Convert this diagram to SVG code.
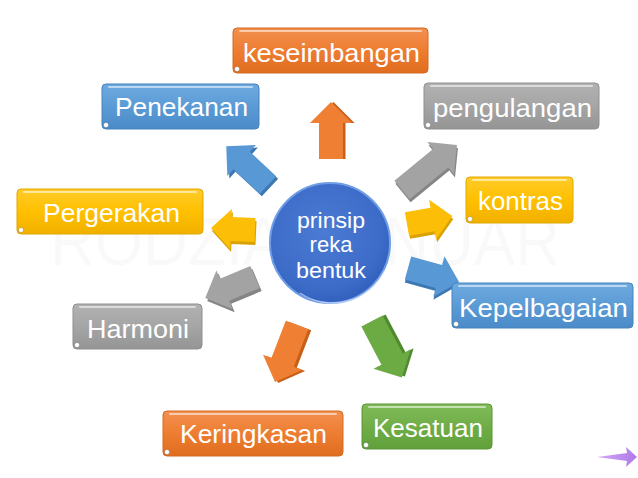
<svg xmlns="http://www.w3.org/2000/svg" width="638" height="478" viewBox="0 0 638 478">
  <defs>
    <linearGradient id="gOrange" x1="0" y1="0" x2="0" y2="1">
      <stop offset="0" stop-color="#f39050"/><stop offset="0.5" stop-color="#ed7d31"/><stop offset="1" stop-color="#e06d20"/>
    </linearGradient>
    <linearGradient id="gBlue" x1="0" y1="0" x2="0" y2="1">
      <stop offset="0" stop-color="#6eaae0"/><stop offset="0.5" stop-color="#5b9bd5"/><stop offset="1" stop-color="#4a8ac8"/>
    </linearGradient>
    <linearGradient id="gGray" x1="0" y1="0" x2="0" y2="1">
      <stop offset="0" stop-color="#b2b2b2"/><stop offset="0.5" stop-color="#a5a5a5"/><stop offset="1" stop-color="#959595"/>
    </linearGradient>
    <linearGradient id="gYellow" x1="0" y1="0" x2="0" y2="1">
      <stop offset="0" stop-color="#ffcb2a"/><stop offset="0.5" stop-color="#ffc000"/><stop offset="1" stop-color="#f0b000"/>
    </linearGradient>
    <linearGradient id="gGreen" x1="0" y1="0" x2="0" y2="1">
      <stop offset="0" stop-color="#80bb58"/><stop offset="0.5" stop-color="#70ad47"/><stop offset="1" stop-color="#60a03a"/>
    </linearGradient>
    <radialGradient id="gCircle" cx="0.45" cy="0.4" r="0.6">
      <stop offset="0" stop-color="#4b7bd4"/><stop offset="0.8" stop-color="#3d6bc8"/><stop offset="1" stop-color="#3260be"/>
    </radialGradient>
    <linearGradient id="gPurple" x1="0" y1="0" x2="1" y2="0">
      <stop offset="0" stop-color="#d2a8f6"/><stop offset="1" stop-color="#b07ae8"/>
    </linearGradient>
  </defs>
  <style>
    .lbl { font-family: "Liberation Sans", Arial, sans-serif; font-size: 26px; fill: #ffffff; text-anchor: middle; }
    .ctr { font-family: "Liberation Sans", Arial, sans-serif; font-size: 22px; fill: #ffffff; text-anchor: middle; }
    .hl { stroke: #ffffff; stroke-opacity: 0.55; stroke-width: 2; stroke-linecap: round; fill: none; }
    .dot { fill: #ffffff; stroke: #000; stroke-opacity: 0.25; stroke-width: 0.8; }
    .orange { fill: url(#gOrange); stroke: #d46a22; stroke-width: 1; }
    .blue { fill: url(#gBlue); stroke: #4683bd; stroke-width: 1; }
    .gray { fill: url(#gGray); stroke: #8f8f8f; stroke-width: 1; }
    .yellow { fill: url(#gYellow); stroke: #e0a900; stroke-width: 1; }
    .green { fill: url(#gGreen); stroke: #5a9638; stroke-width: 1; }
    .sOrange { fill: #c85f18; }
    .sBlue { fill: #3d78b4; }
    .sGray { fill: #858585; }
    .sYellow { fill: #d9a200; }
    .sGreen { fill: #4f8a2e; }
    .aOrange { fill: #ef7f33; }
    .aBlue { fill: #5898d4; }
    .aGray { fill: #a3a3a3; }
    .aYellow { fill: #fcbe06; }
    .aGreen { fill: #6cab44; }
  </style>

  <rect width="638" height="478" fill="#ffffff"/>

  <text x="305" y="265" font-family="Liberation Sans, Arial, sans-serif" font-size="68" fill="#000000" fill-opacity="0.025" text-anchor="middle" textLength="510" lengthAdjust="spacingAndGlyphs">RODZIAH ANUAR</text>

  <g id="connectors">
    <!-- up orange -->
    <g transform="translate(333.5,159) rotate(-90)"><path class="sOrange" d="M0,-12 H36 V-21 L57,0 L36,21 V12 H0 Z"/></g>
    <g transform="translate(331,159) rotate(-90)"><path class="aOrange" d="M0,-12 H36 V-21 L57,0 L36,21 V12 H0 Z"/></g>
    <!-- up-left blue -->
    <g transform="translate(270,187.5) rotate(-137.1)"><path class="sBlue" d="M0,-12 H36 V-21 L57,0 L36,21 V12 H0 Z"/></g>
    <g transform="translate(268,185) rotate(-137.1)"><path class="aBlue" d="M0,-12 H36 V-21 L57,0 L36,21 V12 H0 Z"/></g>
    <!-- up-right gray -->
    <g transform="translate(403,193) rotate(-39.3)"><path class="sGray" d="M0,-12 H50 V-21 L71,0 L50,21 V12 H0 Z"/></g>
    <g transform="translate(402,190) rotate(-39.3)"><path class="aGray" d="M0,-12 H50 V-21 L71,0 L50,21 V12 H0 Z"/></g>
    <!-- right yellow (kontras) -->
    <g transform="translate(408,227) rotate(-10)"><path class="sYellow" d="M0,-12 H26 V-20 L46,0 L26,20 V12 H0 Z"/></g>
    <g transform="translate(407,224) rotate(-10)"><path class="aYellow" d="M0,-12 H26 V-20 L46,0 L26,20 V12 H0 Z"/></g>
    <!-- right-down blue (Kepelbagaian) -->
    <g transform="translate(408,271) rotate(15.4)"><path class="sBlue" d="M0,-12 H32 V-21 L53,0 L32,21 V12 H0 Z"/></g>
    <g transform="translate(408,268) rotate(15.4)"><path class="aBlue" d="M0,-12 H32 V-21 L53,0 L32,21 V12 H0 Z"/></g>
    <!-- left yellow (Pergerakan) -->
    <g transform="translate(256,233) rotate(182.6)"><path class="sYellow" d="M0,-12 H24 V-20 L44,0 L24,20 V12 H0 Z"/></g>
    <g transform="translate(255,230) rotate(182.6)"><path class="aYellow" d="M0,-12 H24 V-20 L44,0 L24,20 V12 H0 Z"/></g>
    <!-- lower-left gray (Harmoni) -->
    <g transform="translate(257,280) rotate(157.2)"><path class="sGray" d="M0,-12 H33 V-21 L54,0 L33,21 V12 H0 Z"/></g>
    <g transform="translate(255,277) rotate(157.2)"><path class="aGray" d="M0,-12 H33 V-21 L54,0 L33,21 V12 H0 Z"/></g>
    <!-- down-left orange (Keringkasan) -->
    <g transform="translate(300,326) rotate(111.1)"><path class="sOrange" d="M0,-12 H40 V-21 L61,0 L40,21 V12 H0 Z"/></g>
    <g transform="translate(297,325) rotate(111.1)"><path class="aOrange" d="M0,-12 H40 V-21 L61,0 L40,21 V12 H0 Z"/></g>
    <!-- down-right green (Kesatuan) -->
    <g transform="translate(375,320) rotate(62.2)"><path class="sGreen" d="M0,-12 H43 V-21 L64,0 L43,21 V12 H0 Z"/></g>
    <g transform="translate(372,321) rotate(62.2)"><path class="aGreen" d="M0,-12 H43 V-21 L64,0 L43,21 V12 H0 Z"/></g>
  </g>

  <g id="center">
    <circle cx="330" cy="243" r="60" fill="url(#gCircle)" stroke="#6f9ee6" stroke-width="2"/>
    <path d="M300,293 A58,58 0 0 0 385,270" fill="none" stroke="#dfe9ff" stroke-opacity="0.6" stroke-width="1.5"/>
    <text class="ctr" x="331" y="228" textLength="68" lengthAdjust="spacingAndGlyphs">prinsip</text>
    <text class="ctr" x="331" y="252">reka</text>
    <text class="ctr" x="331" y="278" textLength="70" lengthAdjust="spacingAndGlyphs">bentuk</text>
  </g>

  <g id="keseimbangan">
    <rect class="orange" x="233" y="28" width="195" height="45" rx="4"/>
    <line class="hl" x1="240" y1="31" x2="421" y2="31"/>
    <circle class="dot" cx="237" cy="69" r="2.5"/>
    <text class="lbl" x="331.5" y="62" textLength="177" lengthAdjust="spacingAndGlyphs">keseimbangan</text>
  </g>

  <g id="penekanan">
    <rect class="blue" x="102" y="84" width="157" height="45" rx="4"/>
    <line class="hl" x1="109" y1="87" x2="252" y2="87"/>
    <circle class="dot" cx="106" cy="125" r="2.5"/>
    <text class="lbl" x="181.5" y="116" textLength="133" lengthAdjust="spacingAndGlyphs">Penekanan</text>
  </g>

  <g id="pengulangan">
    <rect class="gray" x="424" y="83" width="175" height="46" rx="4"/>
    <line class="hl" x1="431" y1="86" x2="592" y2="86"/>
    <circle class="dot" cx="428" cy="125" r="2.5"/>
    <text class="lbl" x="512.5" y="117" textLength="159" lengthAdjust="spacingAndGlyphs">pengulangan</text>
  </g>

  <g id="kontras">
    <rect class="yellow" x="466" y="177" width="107" height="46" rx="4"/>
    <line class="hl" x1="473" y1="180" x2="566" y2="180"/>
    <circle class="dot" cx="470" cy="219" r="2.5"/>
    <text class="lbl" x="520.5" y="210" textLength="85" lengthAdjust="spacingAndGlyphs">kontras</text>
  </g>

  <g id="pergerakan">
    <rect class="yellow" x="17" y="189" width="186" height="45" rx="4"/>
    <line class="hl" x1="24" y1="192" x2="196" y2="192"/>
    <circle class="dot" cx="21" cy="230" r="2.5"/>
    <text class="lbl" x="111.5" y="222" textLength="137" lengthAdjust="spacingAndGlyphs">Pergerakan</text>
  </g>

  <g id="kepelbagaian">
    <rect class="blue" x="452" y="283" width="181" height="45" rx="4"/>
    <line class="hl" x1="459" y1="286" x2="626" y2="286"/>
    <circle class="dot" cx="456" cy="324" r="2.5"/>
    <text class="lbl" x="543.5" y="317" textLength="169" lengthAdjust="spacingAndGlyphs">Kepelbagaian</text>
  </g>

  <g id="harmoni">
    <rect class="gray" x="73" y="304" width="129" height="45" rx="4"/>
    <line class="hl" x1="80" y1="307" x2="195" y2="307"/>
    <circle class="dot" cx="77" cy="345" r="2.5"/>
    <text class="lbl" x="138" y="338" textLength="102" lengthAdjust="spacingAndGlyphs">Harmoni</text>
  </g>

  <g id="keringkasan">
    <rect class="orange" x="163" y="411" width="180" height="45" rx="4"/>
    <line class="hl" x1="170" y1="414" x2="336" y2="414"/>
    <circle class="dot" cx="167" cy="452" r="2.5"/>
    <text class="lbl" x="253.5" y="443" textLength="147" lengthAdjust="spacingAndGlyphs">Keringkasan</text>
  </g>

  <g id="kesatuan">
    <rect class="green" x="362" y="404" width="130" height="45" rx="4"/>
    <line class="hl" x1="369" y1="407" x2="485" y2="407"/>
    <circle class="dot" cx="366" cy="445" r="2.5"/>
    <text class="lbl" x="428" y="437" textLength="110" lengthAdjust="spacingAndGlyphs">Kesatuan</text>
  </g>

  <g id="nav-arrow">
    <path d="M597,457 L627,453 L626,447 L637,457 L626,467 L627,461 Z" fill="url(#gPurple)"/>
  </g>
</svg>
